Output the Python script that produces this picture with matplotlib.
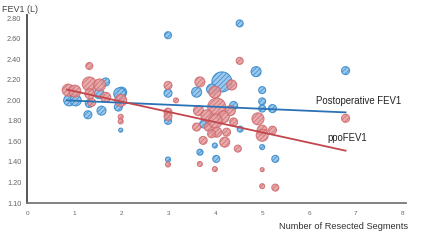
import matplotlib
matplotlib.use("Agg")
import matplotlib.pyplot as plt
import numpy as np

plt.rcParams['font.family'] = ['Liberation Sans', 'DejaVu Sans']
plt.rcParams['hatch.linewidth'] = 0.6

# Postoperative FEV1 (blue): x = resected segments (jittered), y = FEV1 (L), r = bubble radius (px)
post_x = [0.88, 1.02, 1.31, 1.28, 1.57, 1.52, 1.66, 2.00, 1.96, 1.93, 1.98,
          2.99, 2.99, 2.99, 2.99, 3.68, 4.14, 3.60, 3.92, 4.39, 3.75, 4.53,
          3.99, 3.67, 4.02, 4.52, 4.87, 5.00, 5.00, 5.00, 5.22, 5.00, 5.28, 6.78]
post_y = [2.00, 2.00, 1.97, 1.86, 1.90, 2.065, 2.18, 2.08, 2.065, 1.935, 1.71,
          2.635, 2.07, 1.80, 1.424, 1.495, 2.18, 2.08, 2.11, 1.95, 1.77, 1.72,
          1.56, 1.495, 1.43, 2.75, 2.28, 2.10, 1.99, 1.92, 1.92, 1.545, 1.43, 2.29]
post_r = [5.5, 5.5, 4, 4, 4.5, 5, 4, 5, 6, 4, 2,
          3.5, 4, 3.5, 2.5, 2.5, 10, 5, 5, 4, 4, 3,
          2.5, 3, 3.5, 3.5, 5, 3.5, 3.5, 3.5, 4, 2.5, 3.5, 4]

# ppoFEV1 (red)
ppo_x = [0.86, 1.00, 1.31, 1.31, 1.53, 1.32, 1.66, 1.36, 1.98, 1.98, 1.98,
         2.99, 3.16, 2.99, 2.99, 2.99, 3.67, 4.52, 3.67, 4.35, 3.99, 4.03,
         3.64, 3.82, 4.32, 4.17, 4.39, 3.85, 4.03, 3.60, 4.24, 3.74, 4.20,
         4.48, 3.99, 4.00, 3.92, 4.91, 5.00, 5.00, 5.22, 5.00, 5.00, 5.28, 6.78]
ppo_y = [2.10, 2.09, 2.335, 2.16, 2.15, 2.065, 2.03, 1.98, 2.00, 1.84, 1.795,
         2.146, 2.00, 1.886, 1.844, 1.375, 1.38, 2.385, 2.18, 2.15, 2.08, 1.935,
         1.90, 1.85, 1.90, 1.84, 1.79, 1.74, 1.69, 1.74, 1.69, 1.61, 1.593,
         1.53, 1.33, 1.80, 1.675, 1.82, 1.71, 1.66, 1.71, 1.325, 1.164, 1.15, 1.825]
ppo_r = [6, 6, 3.5, 7, 6, 5, 5, 4, 6, 2.5, 2.5,
         4, 2.5, 4, 4, 2.5, 2.5, 3.5, 5, 5, 6, 9,
         5, 6, 5, 6, 4, 4, 5, 4, 4, 4, 5,
         3.5, 2.5, 7, 4, 6, 5, 6, 4, 2, 2.5, 3.5, 4]

# Trend lines (endpoints)
trend_x = [0.83, 6.78]
post_trend = [2.00, 1.883]
ppo_trend = [2.105, 1.51]

xticks = [0, 1, 2, 3, 4, 5, 6, 7, 8]
yticks = [1.0, 1.2, 1.4, 1.6, 1.8, 2.0, 2.2, 2.4, 2.6, 2.8]
ytick_labels = ["1.10", "1.20", "1.40", "1.60", "1.80", "2.00", "2.20", "2.40", "2.60", "2.80"]

W, H = 440, 242
fig = plt.figure(figsize=(W / 100, H / 100), dpi=100)
ax = fig.add_axes([27 / W, 1 - 203 / H, 379 / W, 188 / H])
ax.set_xlim(-0.02, 8.07)
ax.set_ylim(1.0, 2.832)

blue_edge = '#3a8ccc'
blue_face = '#93c2ea'
red_edge = '#cf6a6e'
red_face = '#e39c9e'

def sizes(r):
    return [(2 * v * 0.72) ** 2 for v in r]

ax.scatter(post_x, post_y, s=sizes(post_r), facecolor=blue_face, edgecolor=blue_edge,
           linewidth=0.8, hatch='///////', alpha=0.9, zorder=2)
ax.scatter(ppo_x, ppo_y, s=sizes(ppo_r), facecolor=red_face, edgecolor=red_edge,
           linewidth=0.8, hatch='///////', alpha=0.85, zorder=3)

ax.plot(trend_x, post_trend, color='#2a72b5', lw=1.3, zorder=4)
ax.plot(trend_x, ppo_trend, color='#c2464c', lw=1.3, zorder=4)

ax.set_xticks(xticks)
ax.set_xticklabels([str(t) for t in xticks])
ax.set_yticks(yticks)
ax.set_yticklabels(ytick_labels)
ax.tick_params(axis='both', length=0, colors='#666666')
ax.tick_params(axis='y', labelsize=5.3, pad=4)
ax.tick_params(axis='x', labelsize=4.6, pad=6)

for s in ['top', 'right']:
    ax.spines[s].set_visible(False)
ax.spines['left'].set_color('#555555')
ax.spines['left'].set_linewidth(1.4)
ax.spines['bottom'].set_color('#777777')
ax.spines['bottom'].set_linewidth(1.3)

fig.text(2 / W, 1 - 10 / H, 'FEV1 (L)', fontsize=6.5, color='#444444', ha='left', va='center')
fig.text(344 / W, 1 - 226.5 / H, 'Number of Resected Segments', fontsize=6.7, color='#333333',
         ha='center', va='center')
fig.text(359 / W, 1 - 101 / H, 'Postoperative FEV1', fontsize=6.9, color='#222222',
         ha='center', va='center')
fig.text(347.5 / W, 1 - 138 / H, 'ppoFEV1', fontsize=6.9, color='#222222',
         ha='center', va='center')

fig.savefig('out.png', dpi=100)
